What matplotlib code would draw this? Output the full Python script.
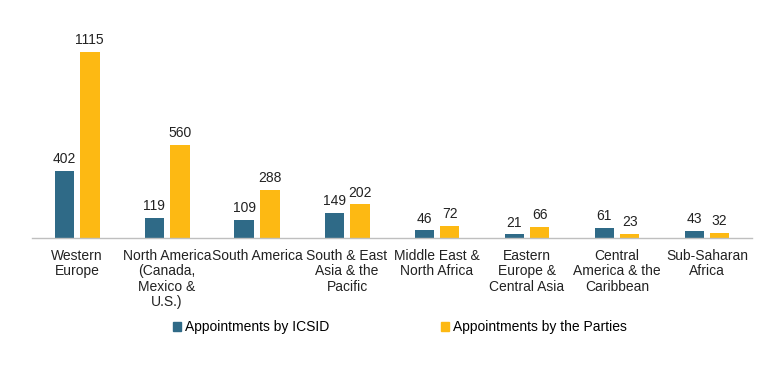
import numpy as np
import matplotlib.pyplot as plt
from matplotlib.patches import Patch

plt.rcParams['font.family'] = ['Liberation Sans', 'DejaVu Sans']

regiones = ['Western\nEurope', 'North America\n(Canada,\nMexico &\nU.S.)', 'South America',
            'South & East\nAsia & the\nPacific', 'Middle East &\nNorth Africa',
            'Eastern\nEurope &\nCentral Asia', 'Central\nAmerica & the\nCaribbean',
            'Sub-Saharan\nAfrica']
icsid = [402, 119, 109, 149, 46, 21, 61, 43]
partes = [1115, 560, 288, 202, 72, 66, 23, 32]

AZUL = '#2F6A87'
AMARILLO = '#FDB913'

fig = plt.figure(figsize=(7.76, 3.66), dpi=100)
ax = fig.add_axes([32/776, 1 - 238/366, 720/776, 218/366])

x = np.arange(len(regiones))
w = 0.22
off = 0.14
b1 = ax.bar(x - off, icsid, w, color=AZUL)
b2 = ax.bar(x + off, partes, w, color=AMARILLO)

for bars in (b1, b2):
    for b in bars:
        ax.text(b.get_x() + b.get_width() / 2, b.get_height() + 28,
                f'{int(b.get_height())}', ha='center', va='bottom',
                fontsize=10, color='#222222')

ax.set_xlim(-0.5, len(regiones) - 0.5)
ax.set_ylim(0, 1307)
ax.set_yticks([])
ax.set_xticks(x)
ax.set_xticklabels(regiones, fontsize=10, color='#222222', linespacing=1.12)
ax.tick_params(axis='x', length=0, pad=8)
for s in ['top', 'right', 'left']:
    ax.spines[s].set_visible(False)
ax.spines['bottom'].set_color('#BFBFBF')
ax.spines['bottom'].set_linewidth(1.0)

handles = [Patch(color=AZUL, label='Appointments by ICSID'),
           Patch(color=AMARILLO, label='Appointments by the Parties')]
fig.legend(handles=handles, loc='center', bbox_to_anchor=(400/776, 1 - 327/366),
           ncol=2, frameon=False, fontsize=10, handlelength=0.6, handleheight=0.6,
           handletextpad=0.3, columnspacing=8.0)

fig.savefig('out.png', dpi=100)
